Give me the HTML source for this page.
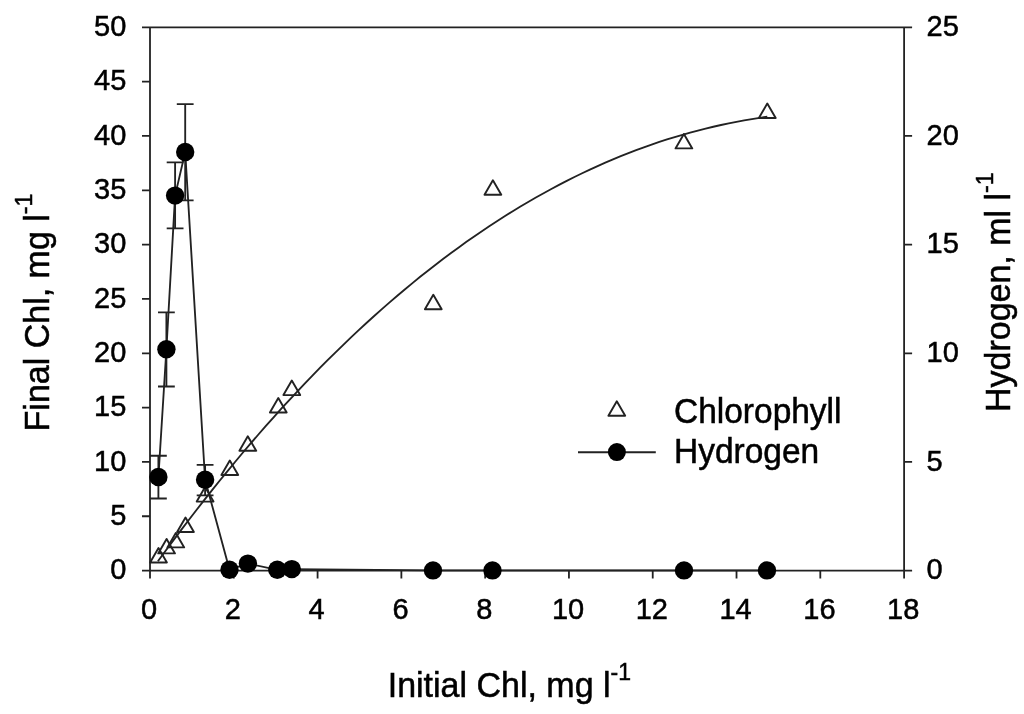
<!DOCTYPE html>
<html><head><meta charset="utf-8"><title>Chlorophyll / Hydrogen</title>
<style>
html,body{margin:0;padding:0;background:#fff;}
body{width:1024px;height:714px;overflow:hidden;}
svg{display:block;}
text{font-family:"Liberation Sans",sans-serif;fill:#000;stroke:#000;stroke-width:0.5px;}
.tk{font-size:29px;}
.ti{font-size:34px;}
.lg{font-size:33.5px;}
.sup{font-size:23px;}
</style></head><body>
<svg width="1024" height="714" viewBox="0 0 1024 714">
<rect width="1024" height="714" fill="#fff"/>
<g>

<g stroke="#222222" stroke-width="1.8" fill="none" stroke-linecap="butt">
<path d="M150.0 27.3V578.6M904.1 27.3V578.6M142.0 27.3H912.1M142.0 570.6H912.1"/>
<path d="M142.0 516.27H150.0M142.0 461.94H150.0M142.0 407.61H150.0M142.0 353.28H150.0M142.0 298.95H150.0M142.0 244.62H150.0M142.0 190.29H150.0M142.0 135.96H150.0M142.0 81.63H150.0M904.1 461.94H912.1M904.1 353.28H912.1M904.1 244.62H912.1M904.1 135.96H912.1M233.79 570.6V578.6M317.58 570.6V578.6M401.37 570.6V578.6M485.16 570.6V578.6M568.94 570.6V578.6M652.73 570.6V578.6M736.52 570.6V578.6M820.31 570.6V578.6"/>
</g>
<g class="tk">
<text class="tk" x="126.3" y="579.20" text-anchor="end">0</text>
<text class="tk" x="126.3" y="524.87" text-anchor="end">5</text>
<text class="tk" x="126.3" y="470.54" text-anchor="end">10</text>
<text class="tk" x="126.3" y="416.21" text-anchor="end">15</text>
<text class="tk" x="126.3" y="361.88" text-anchor="end">20</text>
<text class="tk" x="126.3" y="307.55" text-anchor="end">25</text>
<text class="tk" x="126.3" y="253.22" text-anchor="end">30</text>
<text class="tk" x="126.3" y="198.89" text-anchor="end">35</text>
<text class="tk" x="126.3" y="144.56" text-anchor="end">40</text>
<text class="tk" x="126.3" y="90.23" text-anchor="end">45</text>
<text class="tk" x="126.3" y="35.90" text-anchor="end">50</text>
<text class="tk" x="926.6" y="579.20" text-anchor="start">0</text>
<text class="tk" x="926.6" y="470.54" text-anchor="start">5</text>
<text class="tk" x="926.6" y="361.88" text-anchor="start">10</text>
<text class="tk" x="926.6" y="253.22" text-anchor="start">15</text>
<text class="tk" x="926.6" y="144.56" text-anchor="start">20</text>
<text class="tk" x="926.6" y="35.90" text-anchor="start">25</text>
<text class="tk" x="149.10" y="618.6" text-anchor="middle">0</text>
<text class="tk" x="232.89" y="618.6" text-anchor="middle">2</text>
<text class="tk" x="316.68" y="618.6" text-anchor="middle">4</text>
<text class="tk" x="400.47" y="618.6" text-anchor="middle">6</text>
<text class="tk" x="484.26" y="618.6" text-anchor="middle">8</text>
<text class="tk" x="568.04" y="618.6" text-anchor="middle">10</text>
<text class="tk" x="651.83" y="618.6" text-anchor="middle">12</text>
<text class="tk" x="735.62" y="618.6" text-anchor="middle">14</text>
<text class="tk" x="819.41" y="618.6" text-anchor="middle">16</text>
<text class="tk" x="903.20" y="618.6" text-anchor="middle">18</text>
</g>
<path d="M157.90 561.32 L165.61 550.78 L173.33 540.37 L181.04 530.10 L188.76 519.96 L196.47 509.96 L204.18 500.10 L211.90 490.36 L219.61 480.76 L227.33 471.30 L235.04 461.97 L242.75 452.76 L250.47 443.70 L258.18 434.76 L265.89 425.96 L273.61 417.28 L281.32 408.74 L289.04 400.32 L296.75 392.04 L304.46 383.89 L312.18 375.86 L319.89 367.97 L327.61 360.20 L335.32 352.56 L343.03 345.04 L350.75 337.66 L358.46 330.40 L366.18 323.27 L373.89 316.26 L381.60 309.38 L389.32 302.62 L397.03 295.99 L404.75 289.49 L412.46 283.10 L420.17 276.84 L427.89 270.71 L435.60 264.69 L443.32 258.80 L451.03 253.04 L458.74 247.39 L466.46 241.86 L474.17 236.46 L481.88 231.17 L489.60 226.01 L497.31 220.96 L505.03 216.04 L512.74 211.23 L520.45 206.54 L528.17 201.97 L535.88 197.52 L543.60 193.19 L551.31 188.97 L559.02 184.87 L566.74 180.88 L574.45 177.01 L582.17 173.26 L589.88 169.62 L597.59 166.10 L605.31 162.69 L613.02 159.39 L620.74 156.21 L628.45 153.14 L636.16 150.18 L643.88 147.34 L651.59 144.60 L659.31 141.98 L667.02 139.47 L674.73 137.07 L682.45 134.79 L690.16 132.61 L697.87 130.54 L705.59 128.58 L713.30 126.73 L721.02 124.98 L728.73 123.35 L736.44 121.82 L744.16 120.40 L751.87 119.09 L759.59 117.88 L767.30 116.78" fill="none" stroke="#222222" stroke-width="1.85"/>
<g fill="none" stroke="#222222" stroke-width="1.9" stroke-linejoin="round">
<path d="M150.10 562.50L158.50 548.00L166.90 562.50Z"/>
<path d="M158.20 553.40L166.60 538.90L175.00 553.40Z"/>
<path d="M167.40 547.40L175.80 532.90L184.20 547.40Z"/>
<path d="M177.10 532.00L185.50 517.50L193.90 532.00Z"/>
<path d="M196.70 501.60L205.10 487.10L213.50 501.60Z"/>
<path d="M221.40 475.00L229.80 460.50L238.20 475.00Z"/>
<path d="M239.40 450.80L247.80 436.30L256.20 450.80Z"/>
<path d="M269.90 412.50L278.30 398.00L286.70 412.50Z"/>
<path d="M283.40 395.10L291.80 380.60L300.20 395.10Z"/>
<path d="M424.90 309.20L433.30 294.70L441.70 309.20Z"/>
<path d="M484.50 194.70L492.90 180.20L501.30 194.70Z"/>
<path d="M675.50 148.40L683.90 133.90L692.30 148.40Z"/>
<path d="M758.90 118.00L767.30 103.50L775.70 118.00Z"/>
</g>
<path d="M158.40 477.00 L166.40 349.30 L175.10 195.60 L185.20 152.00 L205.10 479.70 L229.50 569.70 L247.90 563.60 L277.30 569.80 L291.80 569.10 L433.00 570.40 L492.50 570.40 L684.00 570.40 L767.00 570.40" fill="none" stroke="#222222" stroke-width="1.85" stroke-linejoin="round"/>
<path d="M158.40 455.70V498.50M150.00 455.70H166.80M150.00 498.50H166.80M166.40 312.40V386.50M158.00 312.40H174.80M158.00 386.50H174.80M175.10 162.40V228.30M166.70 162.40H183.50M166.70 228.30H183.50M185.20 104.10V200.30M176.80 104.10H193.60M176.80 200.30H193.60M205.10 464.90V495.40M196.70 464.90H213.50M196.70 495.40H213.50" fill="none" stroke="#222222" stroke-width="1.85"/>
<g fill="#000">
<circle cx="158.40" cy="477.00" r="9.2"/>
<circle cx="166.40" cy="349.30" r="9.2"/>
<circle cx="175.10" cy="195.60" r="9.2"/>
<circle cx="185.20" cy="152.00" r="9.2"/>
<circle cx="205.10" cy="479.70" r="9.2"/>
<circle cx="229.50" cy="569.70" r="9.2"/>
<circle cx="247.90" cy="563.60" r="9.2"/>
<circle cx="277.30" cy="569.80" r="9.2"/>
<circle cx="291.80" cy="569.10" r="9.2"/>
<circle cx="433.00" cy="570.40" r="9.2"/>
<circle cx="492.50" cy="570.40" r="9.2"/>
<circle cx="684.00" cy="570.40" r="9.2"/>
<circle cx="767.00" cy="570.40" r="9.2"/>
</g>
<path d="M608.4 415.75L616.8 401.25L625.2 415.75Z" fill="none" stroke="#222222" stroke-width="1.9" stroke-linejoin="round"/>
<path d="M578 452.2H655.8" fill="none" stroke="#222222" stroke-width="1.85"/>
<circle cx="616.9" cy="452.05" r="9.0" fill="#000"/>
<text class="lg" transform="translate(674,422.6) scale(1,1.06)">Chlorophyll</text>
<text class="lg" transform="translate(674,462.6) scale(1,1.06)">Hydrogen</text>
<text class="ti" transform="translate(387.7,696.8) scale(1,1.03)">Initial Chl, mg l<tspan class="sup" dy="-16.8">-1</tspan></text>
<text class="ti" transform="translate(49,431.4) rotate(-90) scale(1,1.03)">Final Chl, mg l<tspan class="sup" dy="-16.8">-1</tspan></text>
<text class="ti" transform="translate(1010,412) rotate(-90) scale(1,1.03)">Hydrogen, ml l<tspan class="sup" dy="-16.8">-1</tspan></text>
</g></svg></body></html>
